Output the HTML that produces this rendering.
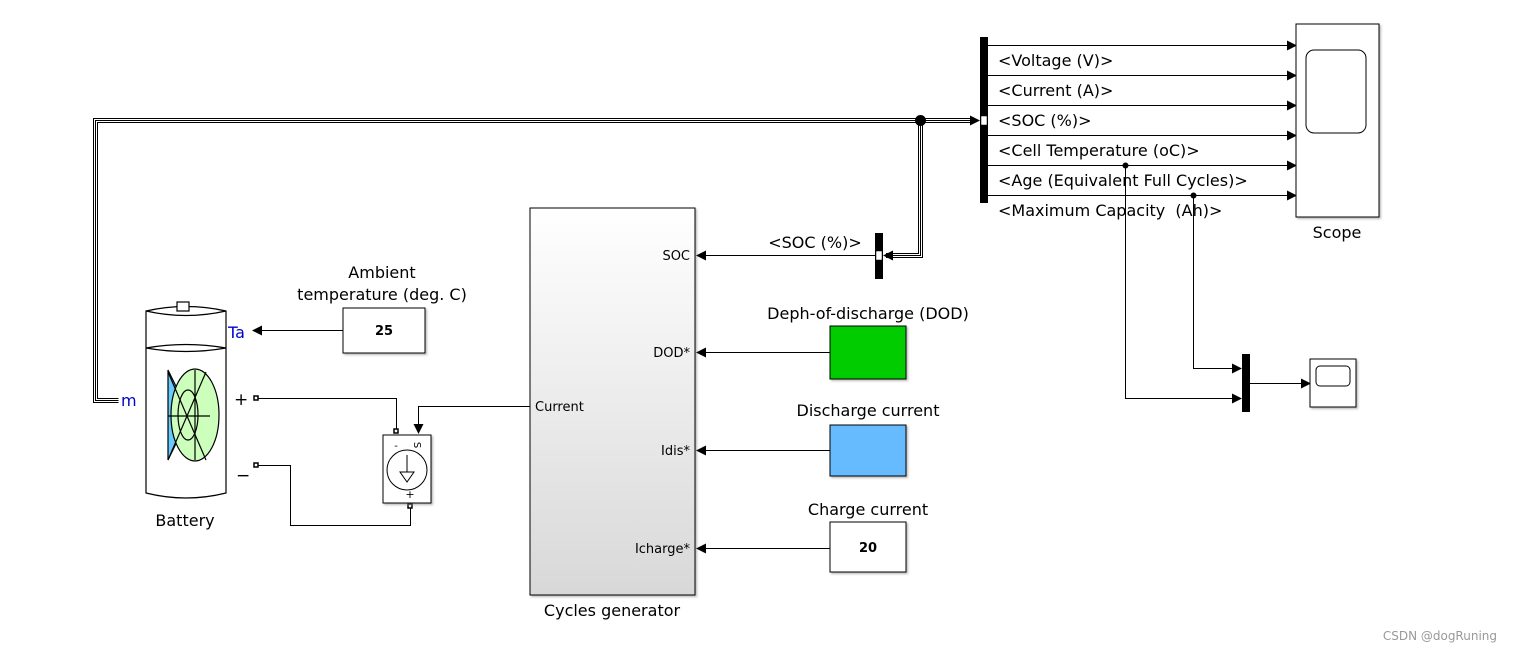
<!DOCTYPE html>
<html><head><meta charset="utf-8"><style>
html,body{margin:0;padding:0;background:#fff;}
svg{display:block;font-family:"DejaVu Sans","Liberation Sans",sans-serif;}
</style></head><body>
<svg width="1513" height="652" viewBox="0 0 1513 652" xmlns="http://www.w3.org/2000/svg">
<defs>
<marker id="a" markerWidth="10" markerHeight="10" refX="9" refY="5" orient="auto" markerUnits="userSpaceOnUse"><path d="M0,0 L10,5 L0,10 z" fill="#000"/></marker>
<linearGradient id="g" x1="0" y1="0" x2="0" y2="1"><stop offset="0" stop-color="#fff"/><stop offset="1" stop-color="#d8d8d8"/></linearGradient>
<filter id="sh"><feDropShadow dx="1.5" dy="1.5" stdDeviation="1" flood-color="#888" flood-opacity="0.6"/></filter>
</defs>
<rect width="1513" height="652" fill="#fff"/>

<!-- triple bus lines -->
<g fill="none" shape-rendering="crispEdges">
<path d="M118.5,400.5 H95.5 V120.5 H970" stroke="#000" stroke-width="5"/>
<path d="M118.5,400.5 H95.5 V120.5 H970" stroke="#fff" stroke-width="3"/>
<path d="M118.5,400.5 H95.5 V120.5 H970" stroke="#000" stroke-width="1"/>
<path d="M920.5,120.5 V255.5 H886" stroke="#000" stroke-width="5"/>
<path d="M920.5,120.5 V255.5 H886" stroke="#fff" stroke-width="3"/>
<path d="M920.5,120.5 V255.5 H886" stroke="#000" stroke-width="1"/>
</g>
<path d="M970,115.5 L980,120.5 L970,125.5z" fill="#000"/>
<path d="M893,250.5 L883,255.5 L893,260.5z" fill="#000"/>
<circle cx="920.5" cy="120.5" r="5.5" fill="#000"/>

<!-- big bus selector -->
<rect x="980" y="37" width="8" height="166" fill="#000"/>
<rect x="981" y="116" width="6" height="9" fill="#fff" stroke="#000" stroke-width="0.5"/>
<g stroke="#000" stroke-width="1" fill="none" marker-end="url(#a)">
<line x1="988" y1="45.5" x2="1296" y2="45.5"/>
<line x1="988" y1="75.5" x2="1296" y2="75.5"/>
<line x1="988" y1="105.5" x2="1296" y2="105.5"/>
<line x1="988" y1="135.5" x2="1296" y2="135.5"/>
<line x1="988" y1="165.5" x2="1296" y2="165.5"/>
<line x1="988" y1="195.5" x2="1296" y2="195.5"/>
</g>
<g font-size="16" fill="#000">
<text x="998" y="66">&lt;Voltage (V)&gt;</text>
<text x="998" y="96">&lt;Current (A)&gt;</text>
<text x="998" y="126">&lt;SOC (%)&gt;</text>
<text x="998" y="156">&lt;Cell Temperature (oC)&gt;</text>
<text x="998" y="186">&lt;Age (Equivalent Full Cycles)&gt;</text>
<text x="998" y="216">&lt;Maximum Capacity&#160; (Ah)&gt;</text>
</g>
<!-- scope -->
<rect x="1296" y="24" width="83" height="193" fill="#fff" stroke="#000" filter="url(#sh)"/>
<rect x="1306" y="50" width="60" height="83" rx="8" fill="#fff" stroke="#000"/>
<text x="1337" y="238" font-size="16" text-anchor="middle">Scope</text>

<!-- branches to mux -->
<g stroke="#000" fill="none">
<path d="M1125.5,165 V398.5 H1241" marker-end="url(#a)"/>
<path d="M1193.5,195 V368.5 H1241" marker-end="url(#a)"/>
<line x1="1250" y1="383.5" x2="1310" y2="383.5" marker-end="url(#a)"/>
</g>
<circle cx="1125.5" cy="165.5" r="3" fill="#000"/>
<circle cx="1193.5" cy="195.5" r="3" fill="#000"/>
<rect x="1242" y="354" width="8" height="58" fill="#000"/>
<rect x="1310" y="359" width="46" height="48" fill="#fff" stroke="#000" filter="url(#sh)"/>
<rect x="1316" y="366" width="34" height="20" rx="4" fill="#fff" stroke="#000"/>

<!-- small bus selector -->
<rect x="875" y="233" width="8" height="46" fill="#000"/>
<rect x="876" y="251" width="6" height="9" fill="#fff" stroke="#000" stroke-width="0.5"/>
<text x="815" y="248" font-size="16" text-anchor="middle">&lt;SOC (%)&gt;</text>

<!-- cycles generator -->
<rect x="530" y="208" width="165" height="387" fill="url(#g)" stroke="#000" filter="url(#sh)"/>
<text x="612" y="616" font-size="16" text-anchor="middle">Cycles generator</text>
<g font-size="13" text-anchor="end">
<text x="690" y="260">SOC</text>
<text x="690" y="357">DOD*</text>
<text x="690" y="455">Idis*</text>
<text x="690" y="553">Icharge*</text>
</g>
<text x="535" y="411" font-size="13">Current</text>
<g stroke="#000" fill="none" marker-end="url(#a)">
<line x1="875" y1="255.5" x2="697" y2="255.5"/>
<line x1="830" y1="352.5" x2="697" y2="352.5"/>
<line x1="830" y1="450.5" x2="697" y2="450.5"/>
<line x1="830" y1="548.5" x2="697" y2="548.5"/>
</g>
<rect x="830" y="326" width="76" height="53" fill="#00cc00" stroke="#000" filter="url(#sh)"/>
<rect x="830" y="425" width="76" height="51" fill="#66bbff" stroke="#000" filter="url(#sh)"/>
<rect x="830" y="522" width="76" height="50" fill="#fff" stroke="#000" filter="url(#sh)"/>
<text x="868" y="552" font-size="13" text-anchor="middle" font-weight="bold">20</text>
<g font-size="16" text-anchor="middle">
<text x="868" y="319">Deph-of-discharge (DOD)</text>
<text x="868" y="416">Discharge current</text>
<text x="868" y="515">Charge current</text>
<text x="382" y="278">Ambient</text>
<text x="382" y="300">temperature (deg. C)</text>
</g>

<!-- ambient block -->
<rect x="343" y="308" width="82" height="45" fill="#fff" stroke="#000" filter="url(#sh)"/>
<text x="384" y="335" font-size="13" text-anchor="middle" font-weight="bold">25</text>
<line x1="343" y1="330.5" x2="253" y2="330.5" stroke="#000" marker-end="url(#a)"/>

<!-- battery -->
<g stroke="#000" stroke-width="1.2" fill="#fff">
<path d="M146,311 Q186,302 226,311 V493 Q186,503 146,493 Z"/>
<path d="M146,311 Q186,320 226,311" fill="none"/>
<path d="M146,348 Q186,341 226,348" fill="none"/>
<path d="M146,348 Q186,355 226,348" fill="none"/>
<rect x="177" y="302" width="12" height="9"/>
<path d="M168,370 L168,460 L190,415 Z" fill="#66ccff"/>
<ellipse cx="195" cy="415" rx="24" ry="46" fill="#ccffbb"/>
<ellipse cx="188" cy="415" rx="10" ry="25" fill="none"/>
<line x1="168" y1="416" x2="210" y2="416"/>
<line x1="195" y1="370" x2="195" y2="460"/>
<line x1="168" y1="372" x2="206" y2="460"/>
<line x1="168" y1="460" x2="206" y2="372"/>
</g>
<text x="185" y="526" font-size="16" text-anchor="middle">Battery</text>
<text x="228" y="338" font-size="16" fill="#0000cc">Ta</text>
<text x="121" y="406" font-size="16" fill="#0000cc">m</text>
<text x="234" y="405" font-size="17">+</text>
<text x="236" y="481" font-size="17">−</text>

<!-- electrical lines -->
<g stroke="#000" fill="none">
<path d="M258,398.5 H396.5 V430"/>
<path d="M258,465.5 H290.5 V525.5 H410.5 V506"/>
<path d="M530,406.5 H418.5 V433" marker-end="url(#a)"/>
</g>
<g fill="#fff" stroke="#000" stroke-width="1.5">
<rect x="254" y="396" width="4" height="4"/>
<rect x="254" y="463" width="4" height="4"/>
<rect x="394" y="429" width="4" height="4"/>
<rect x="408" y="504" width="4" height="4"/>
</g>
<rect x="383" y="435" width="48" height="68" fill="#fff" stroke="#000" filter="url(#sh)"/>
<text x="396" y="449" font-size="10" text-anchor="middle">-</text>
<text x="418" y="449" font-size="10" text-anchor="middle" transform="rotate(90 418 445)">S</text>
<circle cx="407" cy="470" r="20" fill="none" stroke="#000"/>
<path d="M407,455 V472 M400,472 L414,472 L407,482 Z" fill="none" stroke="#000"/>
<text x="410" y="498" font-size="11" text-anchor="middle">+</text>

<text x="1497" y="640" font-size="12" fill="#999" text-anchor="end">CSDN @dogRuning</text>
</svg>
</body></html>
